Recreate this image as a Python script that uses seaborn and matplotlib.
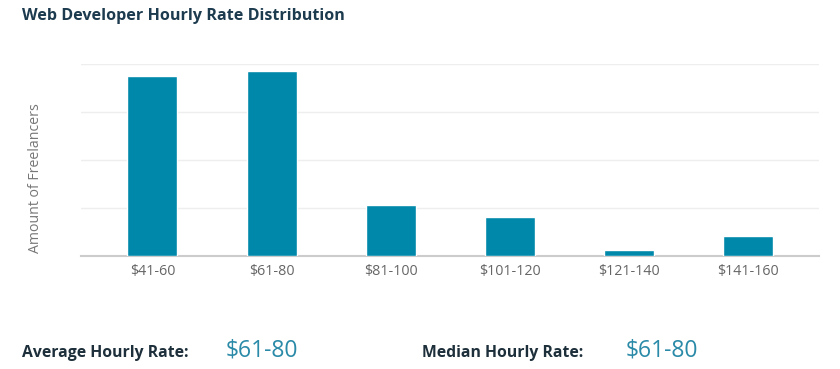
import matplotlib
matplotlib.use("Agg")
import matplotlib.pyplot as plt
import seaborn as sns
import pandas as pd

# data (relative units, grid step = 100)
rate_bins = ['$41-60', '$61-80', '$81-100', '$101-120', '$121-140', '$141-160']
freelancers = [375, 386, 106, 81, 12, 42]
avg_rate = '$61-80'
median_rate = '$61-80'

df = pd.DataFrame({'rate': rate_bins, 'count': freelancers})

sns.set_style('white')
plt.rcParams['font.family'] = ['Open Sans', 'DejaVu Sans']

fig = plt.figure(figsize=(8.4, 3.69), dpi=100)
ax = fig.add_axes([0.0964, 0.306, 0.879, 0.521])

sns.barplot(data=df, x='rate', y='count', color='#0088aa', width=0.42,
            saturation=1, ax=ax, zorder=3)

ax.set_xlim(-0.6, 5.6)
ax.set_ylim(0, 400)
ax.set_yticks([0, 100, 200, 300, 400])
ax.set_yticklabels([])
ax.yaxis.grid(True, color='#eeeeee', linewidth=1)
ax.tick_params(axis='y', length=0)
ax.tick_params(axis='x', length=0, pad=6, labelsize=10.3, labelcolor='#666666')
for side in ['top', 'right', 'left']:
    ax.spines[side].set_visible(False)
ax.spines['bottom'].set_color('#cccccc')
ax.spines['bottom'].set_linewidth(1.5)
ax.set_xlabel('')
ax.set_ylabel('')

fig.text(36 / 840, 1 - 178 / 369, 'Amount of Freelancers', rotation=90,
         ha='center', va='center', fontsize=10.2, color='#777777')

fig.text(22 / 840, 1 - 16 / 369, 'Web Developer Hourly Rate Distribution',
         ha='left', va='center', fontsize=11.6, fontweight='bold', color='#1d3b4f')

# summary line below the chart
fig.text(22 / 840, 1 - 353 / 369, 'Average Hourly Rate:', ha='left', va='center',
         fontsize=11.3, fontweight='bold', color='#1d2f3a')
fig.text(226 / 840, 1 - 350 / 369, avg_rate, ha='left', va='center',
         fontsize=16.5, color='#2a8aa8')
fig.text(422 / 840, 1 - 353 / 369, 'Median Hourly Rate:', ha='left', va='center',
         fontsize=11.3, fontweight='bold', color='#1d2f3a')
fig.text(626 / 840, 1 - 350 / 369, median_rate, ha='left', va='center',
         fontsize=16.5, color='#2a8aa8')

fig.savefig('out.png', dpi=100)
